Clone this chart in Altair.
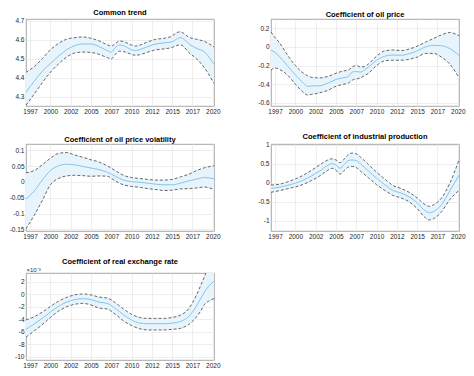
import altair as alt
import pandas as pd

# ---------------- data ----------------
x_ticks = [1997.5, 2000, 2002.5, 2005, 2007.5, 2010, 2012.5, 2015, 2017.5, 2020]
x_domain = [1997.0, 2020.15]

# Common trend
p1_x = [1997.0, 1998, 1999, 2000, 2001, 2002, 2003, 2004, 2005, 2006, 2007, 2007.5, 2008, 2008.5, 2009,
        2010, 2010.5, 2011, 2012, 2013, 2014, 2015, 2015.5, 2016, 2016.5, 2017, 2018, 2019, 2020.15]
p1_mid = [4.322, 4.38, 4.433, 4.475, 4.513, 4.547, 4.569, 4.578, 4.578, 4.564, 4.543, 4.535, 4.56, 4.572, 4.569,
          4.547, 4.543, 4.548, 4.564, 4.578, 4.584, 4.589, 4.603, 4.611, 4.601, 4.581, 4.555, 4.535, 4.47]
p1_hi = [4.428, 4.458, 4.50, 4.547, 4.581, 4.603, 4.611, 4.615, 4.608, 4.594, 4.574, 4.566, 4.58, 4.594, 4.591,
         4.572, 4.567, 4.572, 4.589, 4.603, 4.608, 4.62, 4.637, 4.642, 4.632, 4.615, 4.603, 4.591, 4.562]
p1_lo = [4.254, 4.313, 4.373, 4.428, 4.472, 4.509, 4.53, 4.535, 4.533, 4.523, 4.506, 4.499, 4.523, 4.54, 4.538,
         4.523, 4.518, 4.521, 4.535, 4.547, 4.552, 4.56, 4.569, 4.574, 4.56, 4.535, 4.50, 4.45, 4.37]

# Coefficient of oil price
p2_x = [1997.0, 1997.5, 1998, 1999, 2000, 2001, 2001.5, 2002, 2003, 2004, 2005, 2006, 2006.5, 2007, 2007.5,
        2008, 2008.5, 2009, 2010, 2011, 2012, 2013, 2014, 2015, 2016, 2017, 2018, 2019, 2020.15]
p2_mid = [-0.035, -0.06, -0.10, -0.20, -0.30, -0.39, -0.423, -0.42, -0.417, -0.39, -0.35, -0.33, -0.32, -0.27,
          -0.265, -0.27, -0.25, -0.217, -0.143, -0.10, -0.087, -0.09, -0.073, -0.043, 0.0, 0.017, 0.013, -0.017, -0.09]
p2_hi = [0.16, 0.10, 0.05, -0.083, -0.20, -0.283, -0.31, -0.327, -0.333, -0.317, -0.283, -0.257, -0.25, -0.217,
         -0.20, -0.215, -0.212, -0.183, -0.10, -0.043, -0.033, -0.04, -0.023, 0.007, 0.05, 0.09, 0.13, 0.155, 0.12]
p2_lo = [-0.25, -0.225, -0.24, -0.30, -0.40, -0.49, -0.517, -0.51, -0.493, -0.467, -0.423, -0.40, -0.39, -0.357,
         -0.345, -0.333, -0.31, -0.283, -0.20, -0.15, -0.143, -0.143, -0.133, -0.11, -0.07, -0.07, -0.11, -0.183, -0.33]

# Coefficient of oil price volatility
p3_x = [1997.0, 1998, 1999, 2000, 2001, 2002, 2003, 2004, 2005, 2006, 2007, 2008, 2009, 2010, 2011, 2012,
        2013, 2014, 2015, 2016, 2017, 2018, 2019, 2020.15]
p3_mid = [-0.054, -0.029, 0.006, 0.036, 0.051, 0.056, 0.054, 0.049, 0.044, 0.039, 0.031, 0.018, 0.006, 0.001,
          -0.001, -0.004, -0.007, -0.009, -0.009, -0.004, 0.003, 0.009, 0.014, 0.01]
p3_hi = [0.029, 0.036, 0.054, 0.075, 0.09, 0.093, 0.085, 0.078, 0.07, 0.063, 0.051, 0.036, 0.021, 0.014,
         0.011, 0.008, 0.006, 0.006, 0.008, 0.016, 0.024, 0.036, 0.045, 0.051]
p3_lo = [-0.148, -0.106, -0.059, -0.009, 0.011, 0.019, 0.021, 0.02, 0.018, 0.019, 0.018, 0.003, -0.009, -0.014,
         -0.017, -0.021, -0.024, -0.027, -0.026, -0.022, -0.021, -0.019, -0.016, -0.024]

# Coefficient of industrial production
p4_x = [1997.0, 1998, 1999, 2000, 2001, 2002, 2003, 2004, 2004.5, 2005, 2005.5, 2006, 2006.5, 2007, 2007.5,
        2008, 2009, 2010, 2011, 2012, 2013, 2014, 2015, 2016, 2016.5, 2017, 2018, 2019, 2020.15]
p4_hi = [-0.06, -0.04, 0.02, 0.10, 0.20, 0.33, 0.47, 0.60, 0.63, 0.60, 0.53, 0.62, 0.74, 0.78, 0.76,
         0.68, 0.48, 0.28, 0.10, -0.07, -0.15, -0.25, -0.40, -0.58, -0.62, -0.58, -0.40, -0.02, 0.6]
p4_mid = [-0.15, -0.12, -0.07, -0.01, 0.07, 0.18, 0.31, 0.46, 0.50, 0.47, 0.38, 0.48, 0.58, 0.60, 0.58,
          0.50, 0.31, 0.12, -0.05, -0.20, -0.27, -0.37, -0.53, -0.74, -0.79, -0.76, -0.58, -0.22, 0.2]
p4_lo = [-0.25, -0.21, -0.16, -0.11, -0.04, 0.06, 0.18, 0.33, 0.38, 0.33, 0.23, 0.32, 0.41, 0.43, 0.40,
         0.31, 0.13, -0.05, -0.20, -0.33, -0.40, -0.50, -0.68, -0.92, -0.98, -0.95, -0.76, -0.45, -0.2]

# Coefficient of real exchange rate (x 10^-3)
p5_x = [1997.0, 1998, 1999, 2000, 2001, 2002, 2003, 2004, 2005, 2006, 2007, 2008, 2009, 2010, 2011, 2012,
        2013, 2014, 2015, 2016, 2017, 2018, 2018.5, 2019, 2019.5, 2020.15]
p5_mid = [-5.6, -4.75, -3.85, -2.85, -1.95, -1.25, -0.85, -0.7, -0.85, -1.25, -1.45, -2.25, -3.25, -4.1, -4.6,
          -4.7, -4.7, -4.7, -4.6, -4.35, -3.6, -1.85, -0.7, 0.4, 1.3, 2.1]
p5_hi = [-4.1, -3.6, -2.85, -1.95, -1.1, -0.5, -0.1, 0.05, -0.1, -0.45, -0.6, -1.35, -2.35, -3.2, -3.7,
         -3.85, -3.85, -3.85, -3.7, -3.35, -2.35, -0.1, 1.4, 2.9, 4.5, 6.0]
p5_lo = [-6.85, -5.85, -4.85, -3.7, -2.7, -2.0, -1.6, -1.45, -1.7, -2.2, -2.35, -3.2, -4.25, -5.0, -5.5,
         -5.7, -5.7, -5.7, -5.6, -5.45, -4.85, -3.6, -2.7, -1.6, -1.1, -0.7]

titles = ["Common trend", "Coefficient of oil price", "Coefficient of oil price volatility",
          "Coefficient of industrial production", "Coefficient of real exchange rate"]
y_domains = [[4.25, 4.71], [-0.635, 0.3], [-0.155, 0.12], [-1.27, 1.02], [-10.5, 3.4]]
y_ticks = [[4.3, 4.4, 4.5, 4.6, 4.7], [-0.6, -0.4, -0.2, 0, 0.2], [-0.15, -0.1, -0.05, 0, 0.05, 0.1],
           [-1, -0.5, 0, 0.5, 1], [-10, -8, -6, -4, -2, 0, 2]]

W, H = 188, 87
FONT = "Liberation Sans"
BAND = "#e8f4fc"
MIDC = "#86c4e8"
DASH = "#555555"


def panel(title, xs, lo, mid, hi, ydom, yticks, ytitle=None):
    df = pd.DataFrame({"x": xs, "lo": lo, "mid": mid, "hi": hi})
    base = alt.Chart(df)
    xaxis = alt.Axis(values=x_ticks, labelExpr="floor(datum.value)", title=None,
                     labelFlush=False, labelOverlap=False)
    xscale = alt.Scale(domain=x_domain, nice=False, zero=False)
    xenc = alt.X("x:Q", scale=xscale, axis=xaxis)
    yaxis_kw = dict(values=yticks, labelExpr="'' + datum.value", labelOverlap=False, labelFlush=False)
    if ytitle:
        yaxis_kw.update(title=ytitle, titleAngle=0, titleAlign="left", titleBaseline="bottom",
                        titleX=0, titleY=-1, titleFontSize=6, titleFontWeight="normal",
                        titleColor="#333333", titleFont=FONT)
    else:
        yaxis_kw.update(title=None)
    yaxis = alt.Axis(**yaxis_kw)
    yscale = alt.Scale(domain=ydom, nice=False, zero=False)
    band = base.mark_area(color=BAND, opacity=1, interpolate="monotone", clip=True).encode(
        x=xenc, y=alt.Y("lo:Q", scale=yscale, axis=yaxis), y2="hi:Q")
    mline = base.mark_line(color=MIDC, strokeWidth=1, interpolate="monotone", clip=True).encode(
        x=xenc, y=alt.Y("mid:Q", scale=yscale, axis=yaxis))
    lo_l = base.mark_line(color=DASH, strokeWidth=0.9, strokeDash=[3, 2], interpolate="monotone",
                          clip=True).encode(x=xenc, y=alt.Y("lo:Q", scale=yscale, axis=yaxis))
    hi_l = base.mark_line(color=DASH, strokeWidth=0.9, strokeDash=[3, 2], interpolate="monotone",
                          clip=True).encode(x=xenc, y=alt.Y("hi:Q", scale=yscale, axis=yaxis))
    return alt.layer(band, mline, lo_l, hi_l).properties(width=W, height=H, title=title)


panels = [
    panel(titles[0], p1_x, p1_lo, p1_mid, p1_hi, y_domains[0], y_ticks[0]),
    panel(titles[1], p2_x, p2_lo, p2_mid, p2_hi, y_domains[1], y_ticks[1]),
    panel(titles[2], p3_x, p3_lo, p3_mid, p3_hi, y_domains[2], y_ticks[2]),
    panel(titles[3], p4_x, p4_lo, p4_mid, p4_hi, y_domains[3], y_ticks[3]),
    panel(titles[4], p5_x, p5_lo, p5_mid, p5_hi, y_domains[4], y_ticks[4], ytitle="×10⁻³"),
]

chart = alt.concat(*panels, columns=2, spacing={"row": 17, "column": 36}).properties(
    padding=0, background="white"
).configure_axis(
    grid=True, gridColor="#e6e6e6", gridWidth=0.7, ticks=False, domain=False,
    labelFont=FONT, labelFontSize=6.5, labelColor="#262626", labelPadding=2
).configure_view(
    stroke="#8f8f8f", strokeWidth=0.8
).configure_title(
    font=FONT, fontSize=7.5, fontWeight="bold", color="black", offset=1, anchor="middle"
)

chart.save("out.html", embed_options={"renderer": "svg", "actions": False})
